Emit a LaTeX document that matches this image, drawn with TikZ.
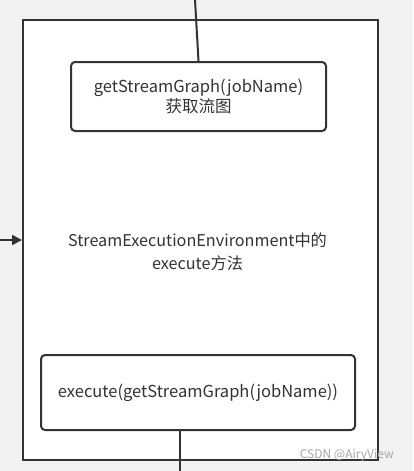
\documentclass[tikz,border=0pt]{standalone}
\usepackage{fontspec}
\setmainfont{Noto Sans CJK SC}
\usetikzlibrary{arrows.meta}

\begin{document}
\begin{tikzpicture}[x=1pt, y=-1pt, line width=2pt,
                    every node/.style={text=black!80, font=\fontsize{16.5}{20}\selectfont},
                    stepbox/.style={draw=black!80, fill=white, rounded corners=4pt,
                                    inner sep=0pt, align=center}]
                      \fill[black!5] (0, 0) rectangle (413, 471);
                      \useasboundingbox (0, 0) rectangle (413, 471);

                      \node[draw=black!80, fill=white, minimum width=355pt, minimum height=440pt,
                            inner sep=0pt] (env) at (200.5, 240) {};
                      \node[align=center, font=\fontsize{16.2}{23}\selectfont] (envlabel) at (197.5, 251.5)
                            {StreamExecutionEnvironment中的\\execute方法};

                      \node[stepbox, minimum width=255pt, minimum height=69pt] (graph) at (198.5, 96.5)
                            {getStreamGraph(jobName)\\获取流图};
                      \node[stepbox, minimum width=314pt, minimum height=75pt] (exec) at (198, 392.5)
                            {execute(getStreamGraph(jobName))};

                      \coordinate (top) at (195, 0);
                      \coordinate (left) at (0, 240);
                      \coordinate (bottom) at (180, 471);

                      \draw[draw=black!80] (top) -- (graph.north);
                      \draw[draw=black!80, line width=1.8pt, -{Triangle[length=10pt, width=10pt]}] (left) -- (env.west);
                      \draw[draw=black!80] (exec.south -| bottom) -- (bottom);

                      \node[text=black!35, font=\fontsize{12}{14}\selectfont, anchor=east] (mark) at (398, 455)
                            {CSDN @AiryView};
                  \end{tikzpicture}
\end{document}
